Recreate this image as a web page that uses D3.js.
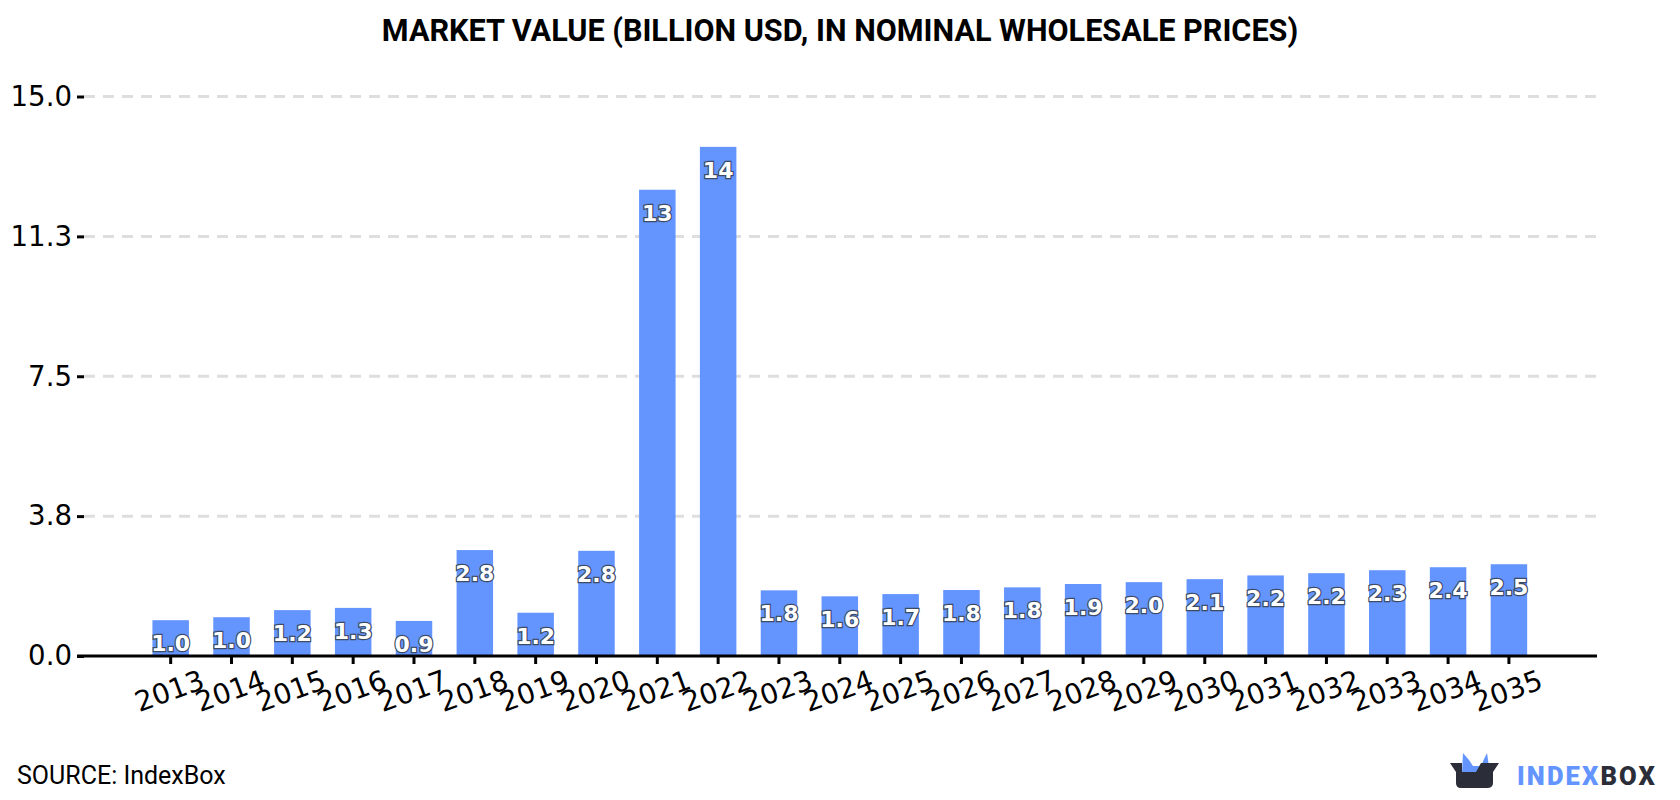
<!DOCTYPE html>
<html>
<head>
<meta charset="utf-8">
<script src="https://cdn.jsdelivr.net/npm/d3@7/dist/d3.min.js"></script>
<style>
  html, body { margin: 0; padding: 0; background: #fff; }
  svg { display: block; }
</style>
</head>
<body>
<svg id="chart" width="1680" height="800"></svg>
<script>
const years = ["2013","2014","2015","2016","2017","2018","2019","2020","2021","2022","2023","2024","2025","2026","2027","2028","2029","2030","2031","2032","2033","2034","2035"];
const marketValue = [0.96,1.04,1.23,1.29,0.94,2.84,1.16,2.82,12.5,13.65,1.76,1.6,1.66,1.77,1.84,1.93,1.98,2.06,2.16,2.22,2.3,2.38,2.46];
const yTicks = [0, 3.75, 7.5, 11.25, 15];
const titleText = "MARKET VALUE (BILLION USD, IN NOMINAL WHOLESALE PRICES)";
const sourceText = "SOURCE: IndexBox";

const plot = { left: 84, right: 1597, top: 96.5, bottom: 656 };
const svg = d3.select("#chart");

const x = d3.scaleBand().domain(years).range([91.6, 1588]).paddingInner(0.4).paddingOuter(1.0);
const y = d3.scaleLinear().domain([0, 15]).range([plot.bottom, plot.top]);
const tickFmt = v => (Math.round(v * 10 + 1e-6) / 10).toFixed(1);
const labelFmt = v => v >= 10 ? d3.format(".0f")(v) : d3.format(".1f")(v);

svg.append("text")
  .attr("x", 840).attr("y", 41)
  .attr("text-anchor", "middle")
  .style("font", "700 30.6px Roboto")
  .text(titleText);

// Dashed horizontal gridlines, one per y tick except the baseline
svg.append("g").selectAll("line").data(yTicks.filter(d => d > 0)).join("line")
  .attr("x1", plot.left).attr("x2", plot.right)
  .attr("y1", d => y(d)).attr("y2", d => y(d))
  .attr("stroke", "#dedede").attr("stroke-width", 3)
  .attr("stroke-dasharray", "11 8");

// Y axis: labels and short ticks, no domain line
const yAxis = svg.append("g").attr("transform", `translate(${plot.left},0)`)
  .call(d3.axisLeft(y).tickValues(yTicks).tickFormat(tickFmt).tickSize(7).tickPadding(5));
yAxis.select(".domain").remove();
yAxis.selectAll("line").attr("stroke", "#000").attr("stroke-width", 3);
yAxis.selectAll("text").attr("fill", "#000").style("font", "27.6px 'DejaVu Sans'");

svg.append("g").selectAll("rect").data(marketValue).join("rect")
  .attr("x", (d, i) => x(years[i]))
  .attr("width", x.bandwidth())
  .attr("y", d => y(d))
  .attr("height", d => y(0) - y(d))
  .attr("fill", "#6495ff");

// X axis with slanted year labels
const xAxis = svg.append("g").attr("transform", `translate(0,${plot.bottom})`)
  .call(d3.axisBottom(x).tickSize(8).tickSizeOuter(0));
xAxis.select(".domain").remove();
xAxis.selectAll("line").attr("stroke", "#000").attr("stroke-width", 3);
xAxis.selectAll("text")
  .attr("fill", "#000")
  .attr("text-anchor", "middle")
  .attr("dy", null).attr("y", null)
  .attr("transform", "translate(2,44) rotate(-20)")
  .style("font", "28px 'DejaVu Sans'");

svg.append("line")
  .attr("x1", 77).attr("x2", plot.right)
  .attr("y1", plot.bottom).attr("y2", plot.bottom)
  .attr("stroke", "#000").attr("stroke-width", 3);

// Value labels sit a fixed distance below each bar top
svg.append("g").selectAll("text").data(marketValue).join("text")
  .attr("x", (d, i) => x(years[i]) + x.bandwidth() / 2)
  .attr("y", d => y(d) + 31)
  .attr("text-anchor", "middle")
  .attr("fill", "#fff")
  .attr("stroke", "#3d4a63")
  .attr("stroke-width", 2.4)
  .attr("paint-order", "stroke")
  .style("font", "700 22px 'DejaVu Sans'")
  .text(labelFmt);

svg.append("text")
  .attr("x", 17).attr("y", 784)
  .style("font", "400 25px Roboto")
  .text(sourceText);

// Brand mark in the lower right corner
const logo = svg.append("g");
logo.append("path")
  .attr("d", "M1462 773 L1463 753 L1469 760 L1473 766 L1481 766 L1484 759 L1487 753 L1490 773 L1476 773 Z")
  .attr("fill", "#6495ff");
logo.append("path")
  .attr("d", "M1450 763 L1462 763 L1462 772 L1476 772 L1481 763 L1499 763 L1493 772 L1493 783 Q1493 788 1487 788 L1461 788 Q1456 788 1456 783 L1456 772 Z")
  .attr("fill", "#2b2d38");
logo.append("text")
  .attr("x", 1517).attr("y", 785)
  .style("font", "900 25.6px Roboto")
  .style("letter-spacing", "2.1px")
  .call(t => {
    t.append("tspan").attr("fill", "#6495ff").text("INDEX");
    t.append("tspan").attr("fill", "#2b2d38").text("BOX");
  });
</script>
</body>
</html>
